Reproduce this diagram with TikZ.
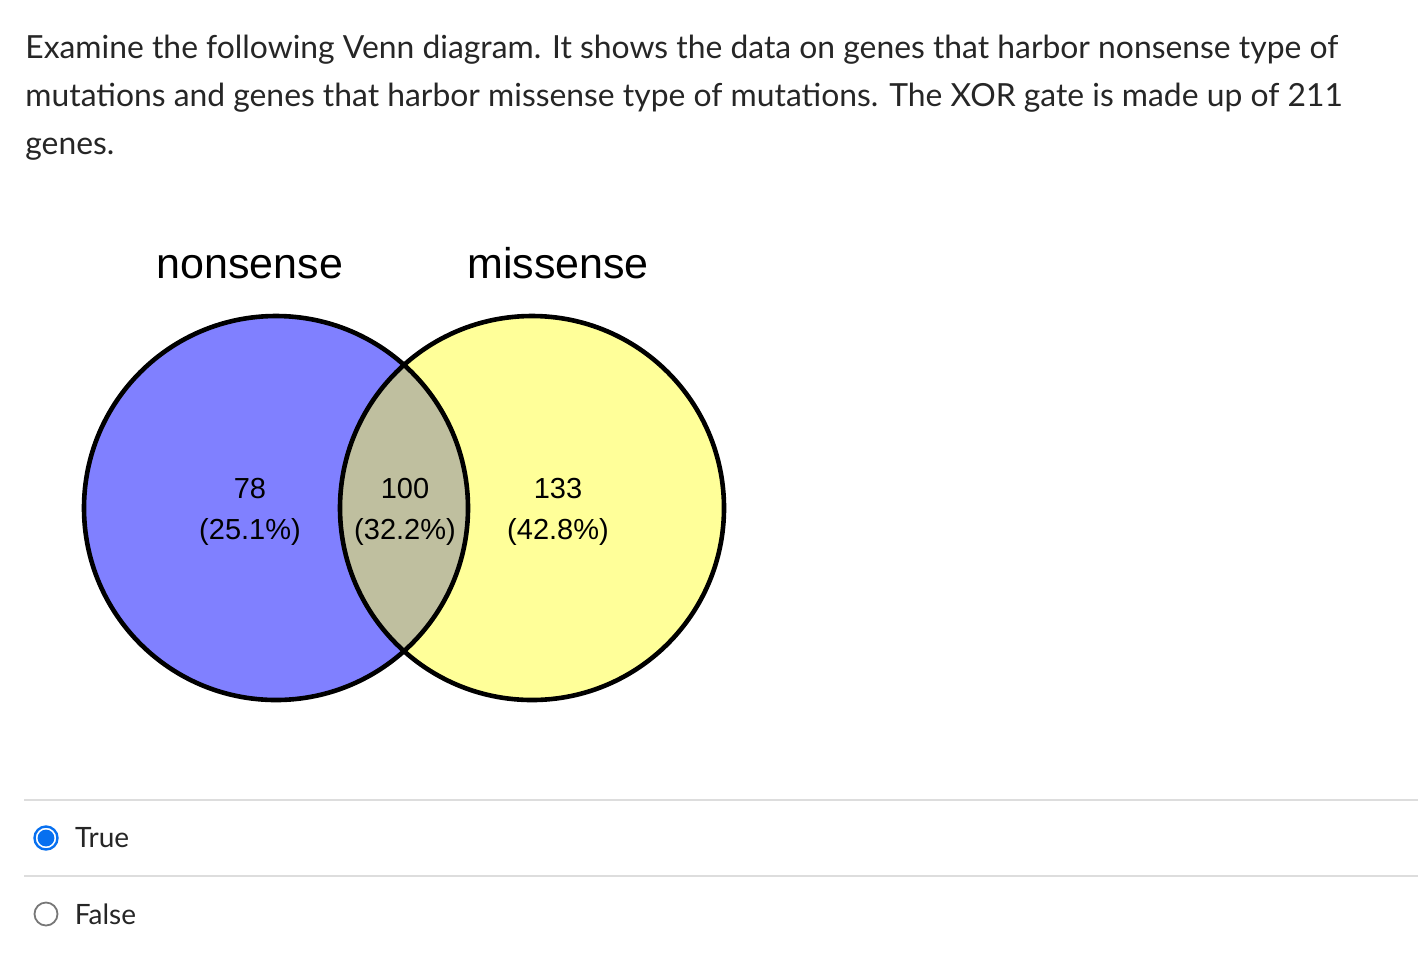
\documentclass[tikz,border=0pt]{standalone}
\usepackage{fontspec}
\setmainfont{Lato}
\newfontfamily\arialfont{Liberation Sans}
\usetikzlibrary{positioning}

\definecolor{setblue}{HTML}{8080FF}
\definecolor{setyellow}{HTML}{FFFF99}
\definecolor{setboth}{HTML}{BFBF9F}
\definecolor{rulegray}{HTML}{DDDDDD}
\definecolor{radioblue}{HTML}{0770F0}
\definecolor{radiogray}{HTML}{777777}

\begin{document}
\begin{tikzpicture}[x = 0.5pt, y = -0.5pt]

\tikzstyle{question_txt} = [anchor = base west, inner sep = 0pt, align = left, font = \fontsize{15.92pt}{24pt}\selectfont, text = black!85]
\tikzstyle{set_label} = [anchor = base, inner sep = 0pt, font = \arialfont\fontsize{21.5pt}{21.5pt}\selectfont]
\tikzstyle{count_txt} = [inner sep = 0pt, align = center, font = \arialfont\fontsize{14.5pt}{20.5pt}\selectfont]
\tikzstyle{answer_txt} = [anchor = base west, inner sep = 0pt, font = \fontsize{14pt}{14pt}\selectfont, text = black!85]
\tikzstyle{venn_ring} = [circle, draw = black, line width = 2.3pt, minimum size = 192pt, inner sep = 0pt]

\useasboundingbox[fill = white] (0,0) rectangle (1418,976);

% question text (base = last line)
\node [question_txt] (question) at (25,154) {Examine the following Venn diagram. It shows the data on genes that harbor nonsense type of\\
mutations and genes that harbor missense type of mutations. The XOR gate is made up of 211\\
genes.};

% venn diagram
\coordinate (c_non) at (276,508);
\coordinate (c_mis) at (532,508);

\fill [setblue] (c_non) circle (96pt);
\fill [setyellow] (c_mis) circle (96pt);
\begin{scope}
\clip (c_non) circle (96pt);
\fill [setboth] (c_mis) circle (96pt);
\end{scope}

\node [venn_ring] (nonsense_set) at (c_non) {};
\node [venn_ring] (missense_set) at (c_mis) {};

\node [set_label] (nonsense_lbl) at (250,278) {nonsense};
\node [set_label] (missense_lbl) at (558,278) {missense};

\node [count_txt] (only_non) at (250,512) {78\\(25.1\%)};
\node [count_txt] (both) at (405,512) {100\\(32.2\%)};
\node [count_txt] (only_mis) at (558,512) {133\\(42.8\%)};

% answers
\draw [rulegray, line width = 1pt] (24,800) -- (1418,800);
\draw [rulegray, line width = 1pt] (24,876) -- (1418,876);

\node [circle, draw = radioblue, line width = 1.2pt, minimum size = 11.5pt, inner sep = 0pt] (true_btn) at (46,838) {};
\fill [radioblue] (true_btn) circle (4.2pt);
\node [answer_txt, right = 8pt of true_btn.east, anchor = west] (true_txt) {True};

\node [circle, draw = radiogray, line width = 0.9pt, minimum size = 11.5pt, inner sep = 0pt] (false_btn) at (46,914) {};
\node [answer_txt, right = 8pt of false_btn.east, anchor = west] (false_txt) {False};

\end{tikzpicture}
\end{document}
